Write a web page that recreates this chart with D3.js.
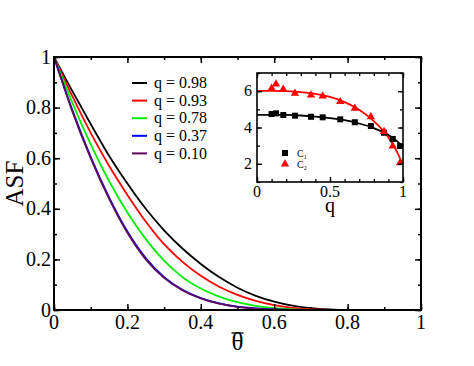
<!DOCTYPE html>
<html><head><meta charset="utf-8">
<script src="https://cdn.jsdelivr.net/npm/d3@7"></script>
<style>body{margin:0;background:#fff}svg{display:block}</style>
</head><body>
<svg id="c" width="474" height="366" font-family="'Liberation Serif','Times New Roman',serif"></svg>
<script>
// ---- main plot data ----
const thetaBar = [0,0.05,0.1,0.15,0.2,0.25,0.3,0.35,0.4,0.45,0.5,0.55,0.6,0.65,0.7,0.75,0.8,0.85,0.9,0.95,1.0];
const asf_q098 = [1,0.865,0.735,0.61,0.50,0.40,0.315,0.243,0.182,0.13,0.088,0.056,0.033,0.017,0.007,0.002,0,0,0,0,0];
const asf_q093 = [1,0.845,0.70,0.57,0.455,0.35,0.26,0.19,0.135,0.092,0.06,0.036,0.019,0.008,0.003,0.0008,0,0,0,0,0];
const asf_q078 = [1,0.82,0.655,0.51,0.385,0.28,0.195,0.13,0.085,0.053,0.031,0.016,0.007,0.0025,0.0005,0,0,0,0,0,0];
const asf_q037 = [1,0.79,0.605,0.445,0.31,0.205,0.13,0.08,0.047,0.026,0.013,0.006,0.002,0.0005,0,0,0,0,0,0,0];
const asf_q010 = [1,0.785,0.60,0.44,0.305,0.20,0.127,0.078,0.046,0.025,0.0125,0.0055,0.002,0.0004,0,0,0,0,0,0,0];
const seriesLabels = ["q = 0.98","q = 0.93","q = 0.78","q = 0.37","q = 0.10"];
const seriesColors = ["#000000","#ff0000","#00ee00","#0000ff","#5e0b5a"];
const mainXTicks = [0,0.2,0.4,0.6,0.8,1];
const mainYTicks = [0,0.2,0.4,0.6,0.8,1];
const mainXTickLabels = ["0","0.2","0.4","0.6","0.8","1"];
const mainYTickLabels = ["0","0.2","0.4","0.6","0.8","1"];

// ---- inset data ----
const qPts = [0.10,0.13,0.18,0.26,0.37,0.45,0.57,0.67,0.78,0.87,0.93,0.98];
const c1Pts = [4.74,4.78,4.69,4.65,4.59,4.56,4.45,4.29,4.08,3.71,3.37,2.98];
const c2Pts = [6.16,6.39,6.10,5.88,5.79,5.73,5.42,5.06,4.59,3.77,2.98,2.06];
const qFit = [0,0.1,0.2,0.3,0.4,0.5,0.6,0.7,0.8,0.85,0.9,0.95,1.0];
const c1Fit = [4.70,4.70,4.69,4.66,4.60,4.52,4.40,4.22,3.97,3.80,3.58,3.30,2.95];
const c2Fit = [6.02,6.02,6.00,5.95,5.85,5.68,5.40,4.98,4.35,3.95,3.45,2.80,1.95];
const insetXTicks = [0,0.5,1];
const insetXTickLabels = ["0","0.5","1"];
const insetYTicks = [2,4,6];
const insetYTickLabels = ["2","4","6"];

const svg = d3.select("#c");

// ---------- main plot ----------
const M = {l:54, r:421, t:57, b:310};
const x = d3.scaleLinear().domain([0,1]).range([M.l,M.r]);
const y = d3.scaleLinear().domain([0,1]).range([M.b,M.t]);

const allSeries = [asf_q098,asf_q093,asf_q078,asf_q037,asf_q010];
const line = d3.line().x((d,i)=>x(thetaBar[i])).y(d=>y(d)).curve(d3.curveMonotoneX);
allSeries.forEach((s,k)=>{
  svg.append("path").datum(s).attr("d",line).attr("fill","none")
    .attr("stroke",seriesColors[k]).attr("stroke-width",1.8);
});

const minorMain = d3.range(0,1.0001,0.1);
function addAxis(axisGen, tr, w){
  const g = svg.append("g").attr("transform",tr).call(axisGen);
  g.select(".domain").remove();
  g.selectAll("line").attr("stroke","#000").attr("stroke-width",w||1.5);
  return g;
}
addAxis(d3.axisTop(x).tickValues(minorMain).tickSize(3).tickFormat(""),`translate(0,${M.b})`);
addAxis(d3.axisTop(x).tickValues(mainXTicks).tickSize(6).tickFormat(""),`translate(0,${M.b})`);
addAxis(d3.axisBottom(x).tickValues(minorMain).tickSize(3).tickFormat(""),`translate(0,${M.t})`);
addAxis(d3.axisBottom(x).tickValues(mainXTicks).tickSize(6).tickFormat(""),`translate(0,${M.t})`);
addAxis(d3.axisRight(y).tickValues(minorMain).tickSize(3).tickFormat(""),`translate(${M.l},0)`);
addAxis(d3.axisRight(y).tickValues(mainYTicks).tickSize(6).tickFormat(""),`translate(${M.l},0)`);
addAxis(d3.axisLeft(y).tickValues(minorMain).tickSize(3).tickFormat(""),`translate(${M.r},0)`);
addAxis(d3.axisLeft(y).tickValues(mainYTicks).tickSize(6).tickFormat(""),`translate(${M.r},0)`);

svg.append("rect").attr("x",M.l).attr("y",M.t).attr("width",M.r-M.l).attr("height",M.b-M.t)
  .attr("fill","none").attr("stroke","#000").attr("stroke-width",2);

mainXTicks.forEach((v,i)=>{
  svg.append("text").attr("x",x(v)).attr("y",M.b+19).attr("text-anchor","middle")
    .attr("font-size",20).text(mainXTickLabels[i]);
});
mainYTicks.forEach((v,i)=>{
  svg.append("text").attr("x",M.l-3).attr("y",y(v)).attr("dy","0.33em").attr("text-anchor","end")
    .attr("font-size",20).text(mainYTickLabels[i]);
});
svg.append("text").attr("transform",`translate(23,${(M.t+M.b)/2}) rotate(-90)`).attr("text-anchor","middle")
  .attr("font-size",25).text("ASF");
svg.append("text").attr("x",(M.l+M.r)/2).attr("y",350).attr("text-anchor","middle")
  .attr("font-size",25).text("θ");
svg.append("line").attr("x1",(M.l+M.r)/2-6).attr("x2",(M.l+M.r)/2+6).attr("y1",333).attr("y2",333)
  .attr("stroke","#000").attr("stroke-width",1.3);

seriesLabels.forEach((lab,k)=>{
  const yy = 83 + k*17.6;
  svg.append("line").attr("x1",132).attr("x2",147).attr("y1",yy).attr("y2",yy)
    .attr("stroke",seriesColors[k]).attr("stroke-width",2);
  svg.append("text").attr("x",154).attr("y",yy).attr("dy","0.33em").attr("font-size",16).text(lab);
});

// ---------- inset ----------
const I = {l:257, r:403, t:73, b:182};
const xi = d3.scaleLinear().domain([0,1]).range([I.l,I.r]);
const yi = d3.scaleLinear().domain([1,7]).range([I.b,I.t]);

const fitLine = (vals)=>d3.line().x((d,i)=>xi(qFit[i])).y(d=>yi(d)).curve(d3.curveMonotoneX)(vals);
svg.append("path").attr("d",fitLine(c1Fit)).attr("fill","none").attr("stroke","#000").attr("stroke-width",1.8);
svg.append("path").attr("d",fitLine(c2Fit)).attr("fill","none").attr("stroke","#ff0000").attr("stroke-width",1.8);

const sq = d3.symbol().type(d3.symbolSquare).size(36);
const tri = d3.symbol().type(d3.symbolTriangle).size(30);
c1Pts.forEach((v,i)=>{
  svg.append("path").attr("d",sq()).attr("transform",`translate(${xi(qPts[i])},${yi(v)})`).attr("fill","#000");
});
c2Pts.forEach((v,i)=>{
  svg.append("path").attr("d",tri()).attr("transform",`translate(${xi(qPts[i])},${yi(v)})`).attr("fill","#ff0000");
});

const minorInX = d3.range(0,1.0001,0.1);
const minorInY = d3.range(1,7.0001,1);
addAxis(d3.axisTop(xi).tickValues(minorInX).tickSize(3).tickFormat(""),`translate(0,${I.b})`,1.3);
addAxis(d3.axisTop(xi).tickValues(insetXTicks).tickSize(5).tickFormat(""),`translate(0,${I.b})`,1.3);
addAxis(d3.axisBottom(xi).tickValues(minorInX).tickSize(3).tickFormat(""),`translate(0,${I.t})`,1.3);
addAxis(d3.axisBottom(xi).tickValues(insetXTicks).tickSize(5).tickFormat(""),`translate(0,${I.t})`,1.3);
addAxis(d3.axisRight(yi).tickValues(minorInY).tickSize(3).tickFormat(""),`translate(${I.l},0)`,1.3);
addAxis(d3.axisRight(yi).tickValues(insetYTicks).tickSize(5).tickFormat(""),`translate(${I.l},0)`,1.3);
addAxis(d3.axisLeft(yi).tickValues(minorInY).tickSize(3).tickFormat(""),`translate(${I.r},0)`,1.3);
addAxis(d3.axisLeft(yi).tickValues(insetYTicks).tickSize(5).tickFormat(""),`translate(${I.r},0)`,1.3);

svg.append("rect").attr("x",I.l).attr("y",I.t).attr("width",I.r-I.l).attr("height",I.b-I.t)
  .attr("fill","none").attr("stroke","#000").attr("stroke-width",1.6);

insetXTicks.forEach((v,i)=>{
  svg.append("text").attr("x",xi(v)).attr("y",I.b+15).attr("text-anchor","middle")
    .attr("font-size",16).text(insetXTickLabels[i]);
});
insetYTicks.forEach((v,i)=>{
  svg.append("text").attr("x",I.l-5).attr("y",yi(v)).attr("dy","0.33em").attr("text-anchor","end")
    .attr("font-size",16).text(insetYTickLabels[i]);
});
svg.append("text").attr("x",(I.l+I.r)/2).attr("y",212).attr("text-anchor","middle").attr("font-size",20).text("q");

svg.append("path").attr("d",sq()).attr("transform","translate(285,153)").attr("fill","#000");
svg.append("path").attr("d",tri()).attr("transform","translate(285,164)").attr("fill","#ff0000");
const t1 = svg.append("text").attr("x",297).attr("y",157).attr("font-size",10);
t1.append("tspan").text("C");
t1.append("tspan").attr("font-size",6).attr("dy",2).text("1");
const t2 = svg.append("text").attr("x",297).attr("y",168).attr("font-size",10);
t2.append("tspan").text("C");
t2.append("tspan").attr("font-size",6).attr("dy",2).text("2");
</script>
</body></html>
